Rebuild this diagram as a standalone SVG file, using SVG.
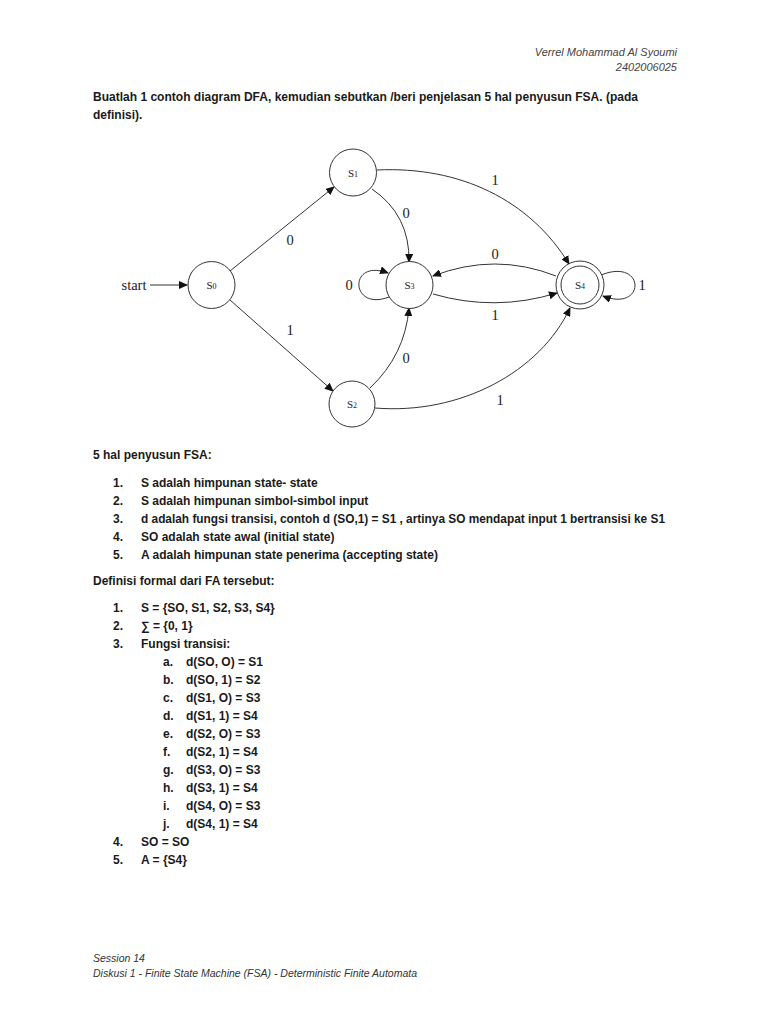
<svg xmlns="http://www.w3.org/2000/svg" width="768" height="1024" viewBox="0 0 768 1024">
<style>
.hdr{font-family:"Liberation Sans",Arial,sans-serif;font-style:italic;font-size:11px;fill:#444}
.body{font-family:"Liberation Sans",Arial,sans-serif;font-weight:bold;font-size:12px;fill:#1a1a1a}
.ft{font-family:"Liberation Sans",Arial,sans-serif;font-style:italic;font-size:10.5px;fill:#333}
.node{fill:#fff;stroke:#333;stroke-width:1}
.nl{font-family:"Liberation Serif","Times New Roman",serif;font-size:11px;fill:#222;text-anchor:middle}
.el{font-family:"Liberation Serif","Times New Roman",serif;font-size:14.5px;fill:#222;text-anchor:middle}
.edge{fill:none;stroke:#333;stroke-width:1}
</style>
<defs>
<marker id="arr" markerWidth="9" markerHeight="8" refX="8" refY="4" orient="auto" markerUnits="userSpaceOnUse">
<path d="M0,0 L9,4 L0,8 Z" fill="#111"/>
</marker>
</defs>
<rect width="768" height="1024" fill="#fff"/>
<text class="hdr" x="677" y="56" text-anchor="end">Verrel Mohammad Al Syoumi</text>
<text class="hdr" x="677" y="71" text-anchor="end">2402006025</text>
<text class="body" x="93" y="101" textLength="545" lengthAdjust="spacingAndGlyphs">Buatlah 1 contoh diagram DFA, kemudian sebutkan /beri penjelasan 5 hal penyusun FSA. (pada</text>
<text class="body" x="93" y="119">definisi).</text>

<g id="connectors">
<line class="edge" x1="150" y1="285" x2="187" y2="285" marker-end="url(#arr)"/>
<line class="edge" x1="230" y1="271" x2="334" y2="187" marker-end="url(#arr)"/>
<line class="edge" x1="230" y1="300" x2="333" y2="391" marker-end="url(#arr)"/>
<path class="edge" d="M372,189 Q410,215 409,262" marker-end="url(#arr)"/>
<path class="edge" d="M377,170 C460,166 530,200 569,264" marker-end="url(#arr)"/>
<path class="edge" d="M556,276 Q495,252 433,276" marker-end="url(#arr)"/>
<path class="edge" d="M433,294 Q495,312 557,293" marker-end="url(#arr)"/>
<path class="edge" d="M370,388 Q405,355 409,308" marker-end="url(#arr)"/>
<path class="edge" d="M375,408 C460,415 540,372 570,308" marker-end="url(#arr)"/>
<path class="edge" d="M389,297 C350,312 348,258 388,273" marker-end="url(#arr)"/>
<path class="edge" d="M601,275 C646,257 646,313 603,296" marker-end="url(#arr)"/>
<text class="el" x="134" y="290">start</text>
<text class="el" x="290" y="245">0</text>
<text class="el" x="290" y="335">1</text>
<text class="el" x="406" y="218">0</text>
<text class="el" x="495" y="185">1</text>
<text class="el" x="495" y="259">0</text>
<text class="el" x="495" y="320">1</text>
<text class="el" x="349" y="290">0</text>
<text class="el" x="642" y="290">1</text>
<text class="el" x="406" y="363">0</text>
<text class="el" x="500" y="405">1</text>
</g>

<g id="S0"><circle class="node" cx="211.5" cy="285" r="23.5"/><text class="nl" x="211.5" y="289">S<tspan font-size="8">0</tspan></text></g>
<g id="S1"><circle class="node" cx="353" cy="172.5" r="23.5"/><text class="nl" x="353" y="176.5">S<tspan font-size="8">1</tspan></text></g>
<g id="S2"><circle class="node" cx="352" cy="404" r="23"/><text class="nl" x="352" y="408">S<tspan font-size="8">2</tspan></text></g>
<g id="S3"><circle class="node" cx="409.5" cy="285" r="23.5"/><text class="nl" x="409.5" y="289">S<tspan font-size="8">3</tspan></text></g>
<g id="S4"><circle class="node" cx="580" cy="285" r="24"/><circle class="node" cx="580" cy="285" r="19"/><text class="nl" x="580" y="289">S<tspan font-size="8">4</tspan></text></g>

<text class="body" x="93" y="459">5 hal penyusun FSA:</text>
<g class="body">
<text x="113" y="487">1.</text><text x="141" y="487">S adalah himpunan state- state</text>
<text x="113" y="505">2.</text><text x="141" y="505">S adalah himpunan simbol-simbol input</text>
<text x="113" y="523">3.</text><text x="141" y="523" textLength="524" lengthAdjust="spacingAndGlyphs">d adalah fungsi transisi, contoh d (SO,1) = S1 , artinya SO mendapat input 1 bertransisi ke S1</text>
<text x="113" y="541">4.</text><text x="141" y="541">SO adalah state awal (initial state)</text>
<text x="113" y="559">5.</text><text x="141" y="559">A adalah himpunan state penerima (accepting state)</text>
</g>
<text class="body" x="93" y="585">Definisi formal dari FA tersebut:</text>
<g class="body">
<text x="113" y="612">1.</text><text x="141" y="612">S = {SO, S1, S2, S3, S4}</text>
<text x="113" y="630">2.</text><text x="141" y="630">∑ = {0, 1}</text>
<text x="113" y="648">3.</text><text x="141" y="648">Fungsi transisi:</text>
<text x="163" y="666">a.</text><text x="186" y="666">d(SO, O) = S1</text>
<text x="163" y="684">b.</text><text x="186" y="684">d(SO, 1) = S2</text>
<text x="163" y="702">c.</text><text x="186" y="702">d(S1, O) = S3</text>
<text x="163" y="720">d.</text><text x="186" y="720">d(S1, 1) = S4</text>
<text x="163" y="738">e.</text><text x="186" y="738">d(S2, O) = S3</text>
<text x="163" y="756">f.</text><text x="186" y="756">d(S2, 1) = S4</text>
<text x="163" y="774">g.</text><text x="186" y="774">d(S3, O) = S3</text>
<text x="163" y="792">h.</text><text x="186" y="792">d(S3, 1) = S4</text>
<text x="163" y="810">i.</text><text x="186" y="810">d(S4, O) = S3</text>
<text x="163" y="828">j.</text><text x="186" y="828">d(S4, 1) = S4</text>
<text x="113" y="846">4.</text><text x="141" y="846">SO = SO</text>
<text x="113" y="864">5.</text><text x="141" y="864">A = {S4}</text>
</g>
<text class="ft" x="93" y="962">Session 14</text>
<text class="ft" x="93" y="977">Diskusi 1 - Finite State Machine (FSA) - Deterministic Finite Automata</text>
</svg>
